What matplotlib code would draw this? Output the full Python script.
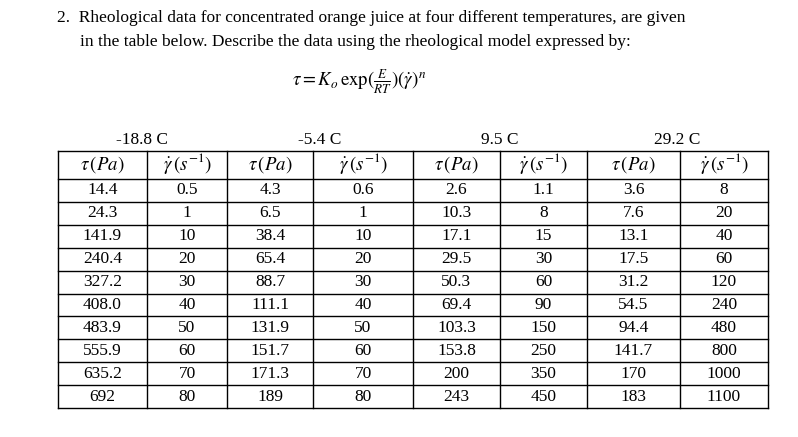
import matplotlib.pyplot as plt

temps = ["-18.8 C", "-5.4 C", "9.5 C", "29.2 C"]
tau = [
    ["14.4", "24.3", "141.9", "240.4", "327.2", "408.0", "483.9", "555.9", "635.2", "692"],
    ["4.3", "6.5", "38.4", "65.4", "88.7", "111.1", "131.9", "151.7", "171.3", "189"],
    ["2.6", "10.3", "17.1", "29.5", "50.3", "69.4", "103.3", "153.8", "200", "243"],
    ["3.6", "7.6", "13.1", "17.5", "31.2", "54.5", "94.4", "141.7", "170", "183"],
]
rate = [
    ["0.5", "1", "10", "20", "30", "40", "50", "60", "70", "80"],
    ["0.6", "1", "10", "20", "30", "40", "50", "60", "70", "80"],
    ["1.1", "8", "15", "30", "60", "90", "150", "250", "350", "450"],
    ["8", "20", "40", "60", "120", "240", "480", "800", "1000", "1100"],
]

plt.rcParams['font.family'] = ['Liberation Serif', 'DejaVu Serif']
plt.rcParams['mathtext.fontset'] = 'stix'
fig = plt.figure(figsize=(7.98, 4.37), dpi=100)
ax = fig.add_axes([0, 0, 1, 1])
ax.set_xlim(0, 798)
ax.set_ylim(437, 0)
ax.axis('off')

fs = 12.5
ax.text(57, 18, "2.  Rheological data for concentrated orange juice at four different temperatures, are given",
        fontsize=fs, va='center')
ax.text(80, 42, "in the table below. Describe the data using the rheological model expressed by:",
        fontsize=fs, va='center')
ax.text(292, 82, r"$\tau = K_o\,\exp(\frac{E}{RT})(\dot\gamma)^n$", fontsize=13.5, va='center')

# column boundaries
xb = [58, 147, 227, 313, 413, 500, 587, 680, 768]
top, hdr, ybot = 151, 179, 408
rows = 10
rh = (ybot - hdr) / rows
lw = 1.0
ax.plot([xb[0], xb[-1]], [top, top], color='k', lw=lw)
for i in range(rows + 1):
    ax.plot([xb[0], xb[-1]], [hdr + i * rh] * 2, color='k', lw=lw)
for x in xb:
    ax.plot([x, x], [top, ybot], color='k', lw=lw)

for g, t in enumerate(temps):
    xc = (xb[2 * g] + xb[2 * g + 2]) / 2
    ax.text(xc, 140, t, fontsize=fs, ha='center', va='center')
    c1 = (xb[2 * g] + xb[2 * g + 1]) / 2
    c2 = (xb[2 * g + 1] + xb[2 * g + 2]) / 2
    ax.text(c1, 165, r"$\tau\,(Pa)$", fontsize=fs + 1, ha='center', va='center')
    ax.text(c2, 164, r"$\dot\gamma\,\left(s^{-1}\right)$", fontsize=fs + 1, ha='center', va='center')
    for i in range(rows):
        yc = hdr + (i + 0.5) * rh
        ax.text(c1, yc, tau[g][i], fontsize=fs, ha='center', va='center')
        ax.text(c2, yc, rate[g][i], fontsize=fs, ha='center', va='center')

fig.savefig("out.png", dpi=100)
